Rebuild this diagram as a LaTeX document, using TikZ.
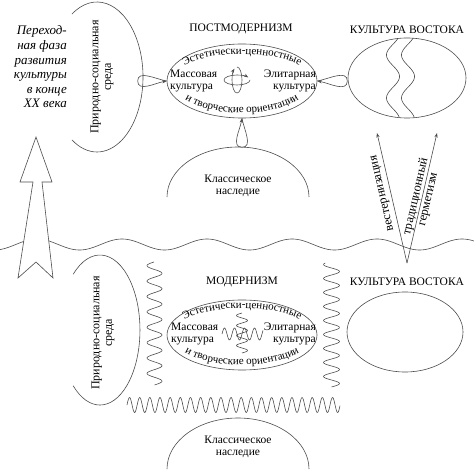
\documentclass[tikz,border=0pt]{standalone}
\usepackage{fontspec}
\setmainfont{Liberation Serif}
\usetikzlibrary{arrows.meta,shapes.geometric,decorations.text,calc}
\newcommand\arcfont{\fontsize{11}{12}\selectfont}

\begin{document}
\begin{tikzpicture}[x=1pt,y=1pt,
    stroke/.style={draw=black!70,line width=0.6pt},
    oval/.style={ellipse,stroke,inner sep=0pt},
    title/.style={font=\fontsize{11.5}{13}\selectfont,inner sep=0pt},
    body/.style={font=\fontsize{11.5}{12}\selectfont,inner sep=0pt},
    side/.style={font=\fontsize{12}{12.5}\selectfont,inner sep=0pt,rotate=90,align=center},
    vlabel/.style={font=\fontsize{12.5}{12.5}\selectfont,inner sep=0pt,sloped},
    loopy/.style={stroke,-{Stealth[length=4.5pt,width=3.2pt]}}]
  \useasboundingbox (0,0) rectangle (474,469);

  % upper half
  \node[font=\fontsize{13}{14.6}\selectfont\itshape,align=right,anchor=east,inner sep=0pt] (trans)
    at (67,402) {Переход-\\ная фаза\\развития\\культуры\\в конце\\XX века};
  \draw[stroke] (71.95,454.9) arc[start angle=123,end angle=-123,x radius=46,y radius=75];
  \node[side] (natTop) at (102,392) {Природно-социальная\\среда};

  \node[title] (tpost) at (241,440) {ПОСТМОДЕРНИЗМ};
  \node[oval,minimum width=150pt,minimum height=74pt] (pm) at (242,388) {};
  \node[body,align=left,anchor=west] (pmMass) at (170,388) {Массовая\\культура};
  \node[body,align=right,anchor=east] (pmElite) at (316,388) {Элитарная\\культура};
  \path[decorate,decoration={text along path,text align=center,
      text={|\arcfont|Эстетически-ценностные}}]
    (173.06,393.51) arc[start angle=170,end angle=10,x radius=70,y radius=26];
  \path[decorate,decoration={text along path,text align=center,
      text={|\arcfont|и творческие ориентации}}]
    (173.06,383.27) arc[start angle=190,end angle=350,x radius=70,y radius=33];
  \draw[loopy] (250,389) arc[start angle=360,end angle=30,x radius=13,y radius=5];
  \draw[loopy] (237,402) arc[start angle=450,end angle=120,x radius=5,y radius=13];

  \draw[loopy] (pm.west) to[out=170,in=90] ++(-29,0) to[out=-90,in=190] (pm.west);
  \draw[loopy] (pm.east) to[out=10,in=90] ++(30,0) to[out=-90,in=-10] (pm.east);
  \draw[loopy] (pm.south) to[out=-80,in=0] ++(0,-29) to[out=180,in=-100] (pm.south);

  \draw[stroke] (167,272) arc[start angle=180,end angle=0,x radius=71,y radius=50];
  \node[body,align=center] (classTop) at (238,283) {Классическое\\наследие};

  \node[title] (eastTopTitle) at (407,439) {КУЛЬТУРА ВОСТОКА};
  \node[oval,minimum width=118pt,minimum height=80pt] (eastTop) at (407,391) {};
  \begin{scope}
    \clip (eastTop.center) ellipse[x radius=59,y radius=40];
    \draw[stroke] plot[domain=345:437,samples=120,smooth] ({393-6.5*cos(8.372*(414-\x))},\x);
    \draw[stroke] plot[domain=345:437,samples=120,smooth] ({408-6.5*cos(8.372*(414-\x))},\x);
  \end{scope}

  \coordinate (vb) at (407,206);
  \coordinate (westTip) at (377,336);
  \coordinate (hermTip) at (437,336);
  \draw[loopy] (vb) -- (westTip)
    node[vlabel,pos=0.55,allow upside down,above=3pt] {вестернизация};
  \draw[loopy] (vb) -- (hermTip)
    node[vlabel,midway,align=center] {традиционный\\герметизм};

  % border between the two phases
  \draw[stroke] plot[domain=0:474,samples=240,smooth] (\x,{224.5+5.5*cos(4.235*(\x-37))});
  \draw[stroke,fill=white] (36,332) -- (52,287) -- (42,287) -- (53,191) -- (36,207)
    -- (18,191) -- (33,287) -- (20,287) -- cycle;

  % lower half
  \draw[stroke] (73.2,194.7) arc[start angle=132,end angle=-132,x radius=40,y radius=75];
  \node[side] (natBot) at (103,136) {Природно-социальная\\среда};
  \draw[stroke] plot[domain=84:207,samples=200] ({154.5+7.5*sin(23.38*(\x-84))},\x);

  \node[title] (tmod) at (242,187) {МОДЕРНИЗМ};
  \node[oval,minimum width=150pt,minimum height=70pt] (md) at (242,134) {};
  \node[body,align=left,anchor=west] (mdMass) at (171,135) {Массовая\\культура};
  \node[body,align=right,anchor=east] (mdElite) at (316,135) {Элитарная\\культура};
  \path[decorate,decoration={text along path,text align=center,
      text={|\arcfont|Эстетически-ценностные}}]
    (173.06,138.69) arc[start angle=170,end angle=10,x radius=70,y radius=27];
  \path[decorate,decoration={text along path,text align=center,
      text={|\arcfont|и творческие ориентации}}]
    (173.06,128.79) arc[start angle=190,end angle=350,x radius=70,y radius=30];
  \draw[stroke] plot[domain=222:263,samples=80] (\x,{135+6*sin(36*(\x-222))});
  \draw[stroke] plot[domain=116:156,samples=80] ({242+5.5*sin(36*(\x-116))},\x);

  \draw[stroke] plot[domain=82:206,samples=200] ({331.5+8*sin(25.714*(\x-82))},\x);
  \draw[stroke] plot[domain=127:340,samples=420] (\x,{64+7.5*sin(35.468*(\x-127))});

  \node[title] (eastBotTitle) at (407,187) {КУЛЬТУРА ВОСТОКА};
  \node[oval,minimum width=116pt,minimum height=80pt] (eastBot) at (405,137) {};

  \draw[stroke] (167,0) arc[start angle=180,end angle=0,x radius=71,y radius=51];
  \node[body,align=center] (classBot) at (238,22) {Классическое\\наследие};
\end{tikzpicture}
\end{document}
